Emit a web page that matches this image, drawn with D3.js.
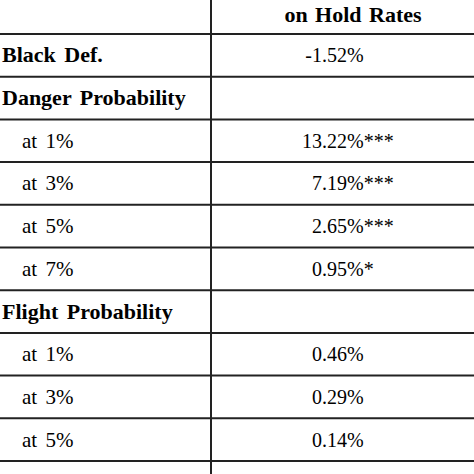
<!DOCTYPE html>
<html><head><meta charset="utf-8">
<script src="https://cdn.jsdelivr.net/npm/d3@7"></script>
<style>body{margin:0;background:#fff}</style>
</head><body>
<script>
var labels = ["Black Def.", "Danger Probability", "at 1%", "at 3%", "at 5%", "at 7%", "Flight Probability", "at 1%", "at 3%", "at 5%"];
var isGroup = [true, true, false, false, false, false, true, false, false, false];
var values = ["-1.52%", "", "13.22%***", "7.19%***", "2.65%***", "0.95%*", "", "0.46%", "0.29%", "0.14%"];

var W = 474, H = 474;
var svg = d3.select("body").append("svg").attr("width", W).attr("height", H)
  .style("font-family", "'Liberation Serif', serif");

var y = d3.scaleLinear().domain([0, labels.length]).range([34, 34 + 42.7 * labels.length]);
var lineCol = "#222";

// horizontal rules
d3.range(labels.length + 1).forEach(function(i) {
  svg.append("line").attr("x1", 0).attr("x2", W)
    .attr("y1", y(i)).attr("y2", y(i))
    .style("stroke", lineCol).style("stroke-width", 2);
});
// column divider
svg.append("line").attr("x1", 211).attr("x2", 211).attr("y1", 0).attr("y2", H)
  .style("stroke", lineCol).style("stroke-width", 2);

// header
svg.append("text").attr("x", 353).attr("y", 22).attr("text-anchor", "middle")
  .style("font-weight", "bold").style("font-size", "22px").style("word-spacing", "2px")
  .text("on Hold Rates");

var rows = svg.selectAll("g.row").data(labels).enter().append("g").attr("class", "row");
rows.append("text")
  .attr("x", function(d, i) { return isGroup[i] ? 2 : 22; })
  .attr("y", function(d, i) { return y(i + 0.5) + 7; })
  .style("font-size", function(d, i) { return isGroup[i] ? "22px" : "21px"; })
  .style("word-spacing", "3px")
  .style("font-weight", function(d, i) { return isGroup[i] ? "bold" : "normal"; })
  .text(function(d) { return d; });

// values aligned on the decimal point
rows.append("text")
  .attr("x", 322).attr("y", function(d, i) { return y(i + 0.5) + 7; })
  .attr("text-anchor", "end").style("font-size", "20px")
  .text(function(d, i) { return values[i].split(".")[0]; });
rows.append("text")
  .attr("x", 322).attr("y", function(d, i) { return y(i + 0.5) + 7; })
  .style("font-size", "20px")
  .text(function(d, i) { var p = values[i].split("."); return p.length > 1 ? "." + p[1] : ""; });
</script>
</body></html>
